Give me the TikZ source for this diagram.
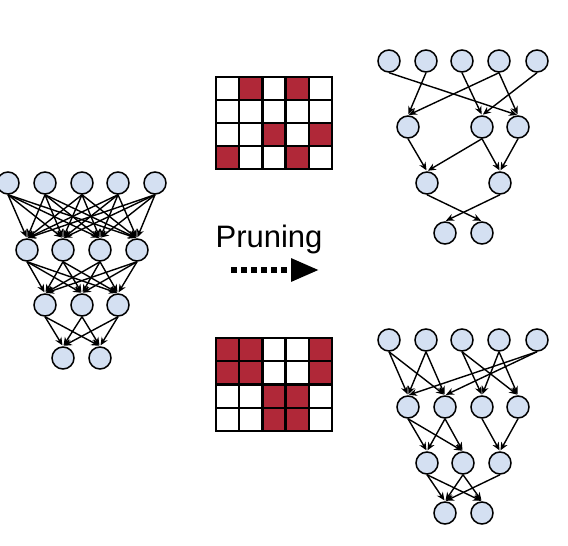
\documentclass[tikz,border=0pt]{standalone}
\usepackage{fontspec}
\setmainfont{Liberation Sans}
\usepackage{tikz}
\usetikzlibrary{arrows.meta,positioning}

\definecolor{neuronblue}{RGB}{212,224,242}
\definecolor{prunered}{RGB}{176,40,56}

\begin{document}
\begin{tikzpicture}[x=1pt, y=-1pt, shorten >=1pt,
                    neuron/.style={circle, draw, line width=1.5pt, fill=neuronblue,
                                   minimum size=22pt, inner sep=0pt},
                    synapse/.style={line width=1.4pt, -{Stealth[length=8pt,width=7pt]}},
                    cell/.style={draw, line width=2.4pt}]
    \useasboundingbox (0,0) rectangle (568,546);

   % dense network
   \foreach \i/\x in {1/8,2/45,3/82,4/118,5/155}
      \node[neuron] (a\i) at (\x,183) {};
   \foreach \i/\x in {1/27,2/63,3/100,4/137}
      \node[neuron] (b\i) at (\x,250) {};
   \foreach \i/\x in {1/45,2/82,3/118}
      \node[neuron] (c\i) at (\x,305) {};
   \foreach \i/\x in {1/63,2/100}
      \node[neuron] (d\i) at (\x,358) {};

   \foreach \i in {1,...,5}
      \foreach \j in {1,...,4}
         \draw[synapse] (a\i.south) -- (b\j.north);
   \foreach \i in {1,...,4}
      \foreach \j in {1,...,3}
         \draw[synapse] (b\i.south) -- (c\j.north);
   \foreach \i in {1,...,3}
      \foreach \j in {1,2}
         \draw[synapse] (c\i.south) -- (d\j.north);

   % weight masks
   \foreach \r/\c in {1/2,1/4,3/3,3/5,4/1,4/4}
      \fill[prunered] (216+\c*23.2-23.2,77+\r*23-23) rectangle +(23.2,23);
   \foreach \c in {0,...,4}
      \foreach \r in {0,...,3}
         \draw[cell] (216+\c*23.2,77+\r*23) rectangle +(23.2,23);

   \foreach \r/\c in {1/1,1/2,1/5,2/1,2/2,2/5,3/3,3/4,4/3,4/4}
      \fill[prunered] (216+\c*23.2-23.2,338+\r*23.25-23.25) rectangle +(23.2,23.25);
   \foreach \c in {0,...,4}
      \foreach \r in {0,...,3}
         \draw[cell] (216+\c*23.2,338+\r*23.25) rectangle +(23.2,23.25);

   % pruning arrow
   \node[anchor=base, font=\fontsize{31}{36}\selectfont] (prunelabel) at (269,247) {Pruning};
   \coordinate (arrowL) at (231,270);
   \coordinate (arrowR) at (319,270);
   \draw[line width=6pt, dash pattern=on 6pt off 4pt, shorten >=0pt,
         -{Triangle[length=28pt,width=22pt]}] (arrowL) -- (arrowR);

   % unstructured pruning
   \foreach \i/\x in {1/389,2/426,3/462,4/499,5/537}
      \node[neuron] (t\i) at (\x,61) {};
   \node[neuron] (u1) at (408,127) {};
   \node[neuron] (u2) at (482,127) {};
   \node[neuron] (u3) at (518,127) {};
   \node[neuron] (v1) at (427,183) {};
   \node[neuron] (v2) at (500,183) {};
   \node[neuron] (w1) at (445,233) {};
   \node[neuron] (w2) at (482,233) {};

   \path[synapse]
   (t1.south) edge (u3.north)
   (t2.south) edge (u1.north)
   (t3.south) edge (u2.north)
   (t4.south) edge (u1.north)
   (t4.south) edge (u3.north)
   (t5.south) edge (u2.north)
   (u1.south) edge (v1.north)
   (u2.south) edge (v1.north)
   (u2.south) edge (v2.north)
   (u3.south) edge (v2.north)
   (v1.south) edge (w2.north)
   (v2.south) edge (w1.north);

   % structured pruning
   \foreach \i/\x in {1/389,2/426,3/462,4/499,5/537}
      \node[neuron] (p\i) at (\x,340) {};
   \foreach \i/\x in {1/408,2/445,3/482,4/518}
      \node[neuron] (q\i) at (\x,407) {};
   \foreach \i/\x in {1/427,2/463,3/500}
      \node[neuron] (r\i) at (\x,463) {};
   \node[neuron] (s1) at (445,513) {};
   \node[neuron] (s2) at (482,513) {};

   \path[synapse]
   (p1.south) edge (q1.north)
   (p1.south) edge (q2.north)
   (p2.south) edge (q1.north)
   (p2.south) edge (q2.north)
   (p3.south) edge (q3.north)
   (p3.south) edge (q4.north)
   (p4.south) edge (q3.north)
   (p4.south) edge (q4.north)
   (p5.south) edge (q1.north)
   (p5.south) edge (q2.north)
   (q1.south) edge (r1.north)
   (q1.south) edge (r2.north)
   (q2.south) edge (r1.north)
   (q2.south) edge (r2.north)
   (q3.south) edge (r3.north)
   (q4.south) edge (r3.north)
   (r1.south) edge (s1.north)
   (r1.south) edge (s2.north)
   (r2.south) edge (s1.north)
   (r2.south) edge (s2.north)
   (r3.south) edge (s1.north);

\end{tikzpicture}
\end{document}
